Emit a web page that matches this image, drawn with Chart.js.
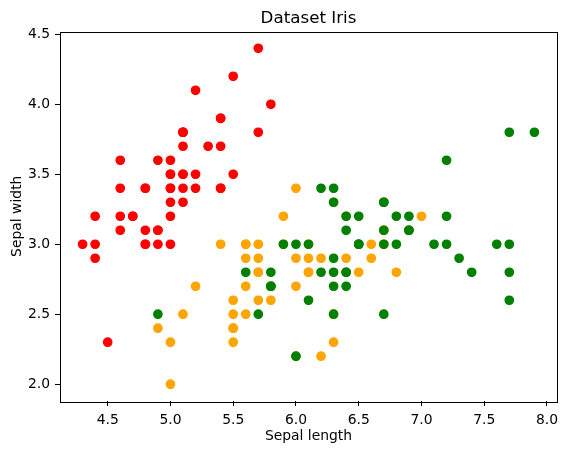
<!DOCTYPE html>
<html><head><meta charset="utf-8">
<script src="https://cdn.jsdelivr.net/npm/chart.js@4"></script>
<style>html,body{margin:0;padding:0;background:#fff}canvas{display:block}</style>
</head><body>
<canvas id="c" width="567" height="454"></canvas>
<script>
const setosa = [[5.1,3.5],[4.9,3.0],[4.7,3.2],[4.6,3.1],[5.0,3.6],[5.4,3.9],[4.6,3.4],[5.0,3.4],[4.4,2.9],[4.9,3.1],
[5.4,3.7],[4.8,3.4],[4.8,3.0],[4.3,3.0],[5.8,4.0],[5.7,4.4],[5.4,3.9],[5.1,3.5],[5.7,3.8],[5.1,3.8],
[5.4,3.4],[5.1,3.7],[4.6,3.6],[5.1,3.3],[4.8,3.4],[5.0,3.0],[5.0,3.4],[5.2,3.5],[5.2,3.4],[4.7,3.2],
[4.8,3.1],[5.4,3.4],[5.2,4.1],[5.5,4.2],[4.9,3.1],[5.0,3.2],[5.5,3.5],[4.9,3.6],[4.4,3.0],[5.1,3.4],
[5.0,3.5],[4.5,2.3],[4.4,3.2],[5.0,3.5],[5.1,3.8],[4.8,3.0],[5.1,3.8],[4.6,3.2],[5.3,3.7],[5.0,3.3]];
const versicolor = [[7.0,3.2],[6.4,3.2],[6.9,3.1],[5.5,2.3],[6.5,2.8],[5.7,2.8],[6.3,3.3],[4.9,2.4],[6.6,2.9],[5.2,2.7],
[5.0,2.0],[5.9,3.0],[6.0,2.2],[6.1,2.9],[5.6,2.9],[6.7,3.1],[5.6,3.0],[5.8,2.7],[6.2,2.2],[5.6,2.5],
[5.9,3.2],[6.1,2.8],[6.3,2.5],[6.1,2.8],[6.4,2.9],[6.6,3.0],[6.8,2.8],[6.7,3.0],[6.0,2.9],[5.7,2.6],
[5.5,2.4],[5.5,2.4],[5.8,2.7],[6.0,2.7],[5.4,3.0],[6.0,3.4],[6.7,3.1],[6.3,2.3],[5.6,3.0],[5.5,2.5],
[5.5,2.6],[6.1,3.0],[5.8,2.6],[5.0,2.3],[5.6,2.7],[5.7,3.0],[5.7,2.9],[6.2,2.9],[5.1,2.5],[5.7,2.8]];
const virginica = [[6.3,3.3],[5.8,2.7],[7.1,3.0],[6.3,2.9],[6.5,3.0],[7.6,3.0],[4.9,2.5],[7.3,2.9],[6.7,2.5],[7.2,3.6],
[6.5,3.2],[6.4,2.7],[6.8,3.0],[5.7,2.5],[5.8,2.8],[6.4,3.2],[6.5,3.0],[7.7,3.8],[7.7,2.6],[6.0,2.2],
[6.9,3.2],[5.6,2.8],[7.7,2.8],[6.3,2.7],[6.7,3.3],[7.2,3.2],[6.2,2.8],[6.1,3.0],[6.4,2.8],[7.2,3.0],
[7.4,2.8],[7.9,3.8],[6.4,2.8],[6.3,2.8],[6.1,2.6],[7.7,3.0],[6.3,3.4],[6.4,3.1],[6.0,3.0],[6.9,3.1],
[6.7,3.1],[6.9,3.1],[5.8,2.7],[6.8,3.2],[6.7,3.3],[6.7,3.0],[6.3,2.5],[6.5,3.0],[6.2,3.4],[5.9,3.0]];
const xTicks = [4.5,5.0,5.5,6.0,6.5,7.0,7.5,8.0];
const yTicks = [2.0,2.5,3.0,3.5,4.0,4.5];
const speciesNames = ['setosa','versicolor','virginica'];
const speciesColors = ['#ff0000','#ffa500','#008000'];
const chartTitle = 'Dataset Iris';

const FONT = 'DejaVu Sans';
const toPts = a => a.map(p => ({x:p[0], y:p[1]}));
const all = [setosa, versicolor, virginica];

const frame = {
  id:'frame',
  afterDatasetsDraw(chart){
    const a = chart.chartArea, ctx = chart.ctx;
    ctx.save(); ctx.strokeStyle='#000'; ctx.lineWidth=1;
    ctx.strokeRect(Math.round(a.left)+0.5, Math.round(a.top)+0.5, Math.round(a.right-a.left), Math.round(a.bottom-a.top));
    ctx.fillStyle='#000'; ctx.font = '16.7px "' + FONT + '"';
    ctx.textAlign='center'; ctx.textBaseline='alphabetic';
    ctx.fillText(chartTitle, (a.left+a.right)/2, 23);
    ctx.restore();
  }
};

new Chart(document.getElementById('c'), {
  type:'scatter',
  data:{ datasets: all.map((d,i)=>({
    label: speciesNames[i], data: toPts(d),
    backgroundColor: speciesColors[i], borderColor: speciesColors[i],
    pointRadius: 4.2, pointHoverRadius: 4.2, borderWidth: 1.3, order: 3-i
  }))},
  options:{
    responsive:false, animation:false, devicePixelRatio:1,
    layout:{ padding:{ left:0, right:10, top:31.5, bottom:0 } },
    plugins:{
      legend:{ display:false }, tooltip:{ enabled:false }, title:{ display:false }
    },
    scales:{
      x:{ type:'linear', min:4.12, max:8.08,
        afterBuildTicks(s){ s.ticks = xTicks.map(v=>({value:v})); },
        afterFit(s){ s.height = 53; },
        grid:{ drawOnChartArea:false, drawTicks:true, tickLength:5, color:'#000' },
        border:{ display:false },
        ticks:{ color:'#000', padding:6, font:{ family:FONT, size:13.9 }, callback:v=>v.toFixed(1), maxRotation:0, autoSkip:false },
        title:{ display:true, text:'Sepal length', color:'#000', font:{ family:FONT, size:13.9 }, padding:{ top:2, bottom:9 } }
      },
      y:{ type:'linear', min:1.88, max:4.52,
        afterBuildTicks(s){ s.ticks = yTicks.map(v=>({value:v})); },
        afterFit(s){ s.width = 60; },
        grid:{ drawOnChartArea:false, drawTicks:true, tickLength:5, color:'#000' },
        border:{ display:false },
        ticks:{ color:'#000', padding:5, font:{ family:FONT, size:13.9 }, callback:v=>v.toFixed(1), autoSkip:false },
        title:{ display:true, text:'Sepal width', color:'#000', font:{ family:FONT, size:13.9 }, padding:{ top:9, bottom:4 } }
      }
    }
  },
  plugins:[frame]
});
</script>
</body></html>
